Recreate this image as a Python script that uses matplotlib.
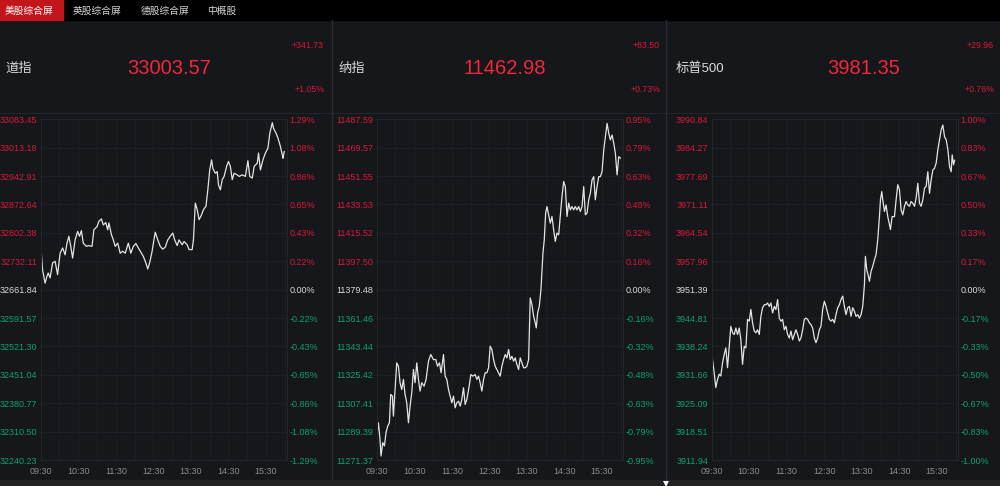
import numpy as np
import matplotlib.pyplot as plt
from matplotlib.patches import Rectangle

plt.rcParams['font.family'] = ['Liberation Sans', 'Noto Sans CJK SC', 'DejaVu Sans']

tabs = ['美股综合屏', '英股综合屏', '德股综合屏', '中概股']
names = ['道指', '纳指', '标普500']
last = ['33003.57', '11462.98', '3981.35']
change = ['+341.73', '+83.50', '+29.96']
change_pct = ['+1.05%', '+0.73%', '+0.76%']
prev_close = [32661.84, 11379.48, 3951.39]
time_labels = ['09:30', '10:30', '11:30', '12:30', '13:30', '14:30', '15:30']

left_ticks = [
    ['33083.45', '33013.18', '32942.91', '32872.64', '32802.38', '32732.11', '32661.84',
     '32591.57', '32521.30', '32451.04', '32380.77', '32310.50', '32240.23'],
    ['11487.59', '11469.57', '11451.55', '11433.53', '11415.52', '11397.50', '11379.48',
     '11361.46', '11343.44', '11325.42', '11307.41', '11289.39', '11271.37'],
    ['3990.84', '3984.27', '3977.69', '3971.11', '3964.54', '3957.96', '3951.39',
     '3944.81', '3938.24', '3931.66', '3925.09', '3918.51', '3911.94'],
]
right_ticks = [
    ['1.29%', '1.08%', '0.86%', '0.65%', '0.43%', '0.22%', '0.00%',
     '-0.22%', '-0.43%', '-0.65%', '-0.86%', '-1.08%', '-1.29%'],
    ['0.95%', '0.79%', '0.63%', '0.48%', '0.32%', '0.16%', '0.00%',
     '-0.16%', '-0.32%', '-0.48%', '-0.63%', '-0.79%', '-0.95%'],
    ['1.00%', '0.83%', '0.67%', '0.50%', '0.33%', '0.17%', '0.00%',
     '-0.17%', '-0.33%', '-0.50%', '-0.67%', '-0.83%', '-1.00%'],
]

# (minutes after 09:30, index level)
dow_pts = [
    (0, 32773), (3, 32711), (7, 32678), (10, 32695), (12, 32703), (15, 32691), (19, 32728),
    (23, 32732), (27, 32699), (31, 32752), (35, 32765), (39, 32748), (42, 32777), (45, 32794),
    (48, 32769), (51, 32740), (55, 32785), (59, 32806), (62, 32794), (65, 32808), (68, 32777),
    (73, 32769), (76, 32771), (82, 32769), (85, 32810), (90, 32818), (93, 32831), (97, 32837),
    (100, 32822), (104, 32828), (107, 32810), (109, 32827), (113, 32798), (116, 32785),
    (119, 32769), (123, 32777), (127, 32752), (131, 32757), (135, 32752), (140, 32777),
    (144, 32752), (148, 32769), (152, 32776), (156, 32765), (161, 32752), (164, 32744),
    (168, 32728), (171, 32713), (174, 32728), (178, 32757), (180, 32777), (183, 32804),
    (187, 32785), (191, 32769), (195, 32762), (199, 32767), (203, 32785), (207, 32794),
    (211, 32802), (214, 32785), (218, 32771), (221, 32785), (226, 32773), (229, 32781),
    (234, 32773), (237, 32761), (242, 32761), (244, 32785), (247, 32876), (250, 32860),
    (253, 32835), (257, 32847), (260, 32860), (264, 32868), (267, 32909), (270, 32958),
    (273, 32983), (275, 32962), (279, 32950), (282, 32954), (284, 32921), (287, 32909),
    (290, 32934), (293, 32942), (297, 32967), (300, 32979), (303, 32967), (306, 32934),
    (309, 32950), (314, 32946), (317, 32942), (322, 32946), (327, 32942), (331, 32981),
    (334, 32942), (338, 32938), (341, 32967), (346, 32975), (348, 33000), (351, 32958),
    (355, 32983), (359, 33000), (363, 33012), (366, 33049), (370, 33075), (372, 33061),
    (376, 33049), (379, 33037), (383, 33016), (386, 32995), (387, 32987), (389, 33003.57),
]
nasdaq_pts = [
    (0, 11284.5), (2.7, 11295.0), (5.3, 11284.5), (6.9, 11273.9), (9.6, 11282.4), (12.3, 11280.3),
    (14.9, 11288.7), (17.6, 11292.9), (20.3, 11295.0), (22.4, 11313.0), (25.1, 11311.9),
    (26.7, 11299.2), (29.3, 11316.1), (32.0, 11333.0), (34.7, 11330.9), (37.3, 11320.4),
    (40.0, 11316.1), (42.7, 11322.5), (45.3, 11313.0), (48.0, 11307.7), (50.7, 11295.0),
    (53.3, 11305.6), (56.0, 11314.0), (58.7, 11328.8), (61.3, 11320.4), (64.0, 11333.0),
    (66.7, 11322.5), (69.3, 11315.1), (72.0, 11320.4), (75.7, 11318.2), (78.9, 11322.5),
    (82.7, 11334.1), (86.4, 11338.3), (90.7, 11335.1), (94.4, 11335.1), (97.1, 11330.9),
    (100.3, 11333.0), (102.9, 11326.7), (106.7, 11338.3), (109.3, 11324.6), (112.0, 11322.5),
    (114.7, 11316.1), (117.3, 11311.9), (120.0, 11307.7), (122.7, 11311.9), (125.3, 11304.5),
    (128.0, 11307.7), (130.7, 11308.7), (133.3, 11305.6), (136.0, 11309.8), (138.7, 11317.2),
    (141.3, 11306.6), (144.0, 11309.8), (147.7, 11318.2), (150.4, 11325.6), (153.6, 11324.6),
    (157.3, 11325.6), (160.0, 11322.5), (162.7, 11324.6), (165.3, 11320.4), (168.0, 11315.1),
    (170.7, 11322.5), (173.3, 11326.7), (176.0, 11326.7), (178.7, 11329.9), (181.3, 11343.6),
    (184.0, 11341.5), (186.7, 11335.1), (189.3, 11330.9), (192.0, 11328.8), (194.7, 11326.7),
    (197.3, 11324.6), (200.0, 11330.9), (202.7, 11335.1), (205.3, 11338.3), (208.0, 11336.2),
    (210.7, 11341.5), (213.3, 11335.1), (216.0, 11337.2), (218.7, 11334.1), (221.3, 11336.2),
    (224.0, 11332.0), (226.7, 11328.8), (229.3, 11336.2), (232.0, 11333.0), (234.7, 11329.9),
    (237.3, 11329.9), (240.0, 11330.9), (242.7, 11335.1), (245.3, 11374.2), (248.0, 11370.0),
    (250.7, 11362.6), (253.3, 11358.4), (254.9, 11355.2), (257.1, 11364.7), (259.7, 11368.9),
    (262.4, 11379.5), (265.6, 11402.7), (267.7, 11411.1), (269.9, 11428.0), (272.0, 11432.2),
    (274.7, 11427.0), (277.3, 11421.7), (280.0, 11425.9), (282.7, 11417.5), (285.3, 11410.1),
    (288.0, 11415.4), (290.7, 11414.3), (293.3, 11425.9), (296.0, 11438.6), (298.7, 11448.1),
    (301.3, 11444.9), (304.0, 11425.9), (306.7, 11434.4), (309.3, 11430.1), (312.0, 11432.2),
    (314.7, 11430.1), (317.3, 11432.2), (320.0, 11430.1), (322.7, 11432.2), (325.3, 11429.1),
    (328.0, 11432.2), (330.7, 11444.9), (333.3, 11427.0), (336.0, 11428.0), (338.7, 11436.5),
    (341.3, 11440.7), (344.0, 11449.1), (346.7, 11451.2), (349.3, 11436.5), (352.0, 11444.9),
    (354.7, 11451.2), (357.3, 11451.2), (360.0, 11454.4), (362.7, 11468.1), (365.3, 11476.6),
    (368.0, 11485.0), (370.7, 11478.7), (373.3, 11474.5), (376.0, 11477.6), (378.7, 11472.4),
    (381.3, 11466.0), (384.0, 11452.3), (386.7, 11463.9), (389.3, 11462.98),
]
spx_pts = [
    (0, 3937.5), (1.6, 3935.2), (4.3, 3932.1), (6.9, 3928.7), (9.6, 3930.6), (12.3, 3931.8),
    (14.9, 3931.4), (17.6, 3934.4), (20.3, 3936.4), (22.9, 3937.9), (25.6, 3933.3), (28.3, 3938.3),
    (30.9, 3942.9), (33.6, 3941.4), (36.3, 3941.0), (38.9, 3942.5), (41.6, 3941.0), (44.3, 3942.5),
    (46.9, 3939.8), (49.6, 3934.1), (52.3, 3938.3), (54.9, 3937.9), (57.6, 3944.5), (60.3, 3944.1),
    (62.9, 3946.8), (65.6, 3943.7), (68.3, 3941.8), (70.9, 3941.4), (73.6, 3942.1), (76.3, 3941.0),
    (78.9, 3945.2), (81.6, 3947.2), (84.3, 3947.9), (86.9, 3947.9), (89.6, 3948.3), (92.3, 3947.5),
    (94.9, 3948.3), (97.6, 3946.0), (100.3, 3947.5), (102.9, 3946.8), (105.6, 3949.1),
    (108.3, 3944.8), (110.9, 3944.1), (113.6, 3944.5), (116.3, 3942.1), (118.9, 3942.9),
    (121.6, 3941.0), (124.3, 3940.2), (126.9, 3941.8), (129.6, 3939.8), (132.3, 3941.0),
    (134.9, 3942.1), (137.6, 3941.0), (140.3, 3939.5), (142.9, 3940.2), (145.6, 3942.1),
    (148.3, 3944.5), (150.9, 3944.8), (153.6, 3944.5), (156.3, 3943.7), (158.9, 3943.3),
    (161.6, 3942.5), (164.3, 3940.2), (166.9, 3939.1), (169.6, 3940.2), (172.3, 3942.1),
    (174.9, 3942.9), (177.6, 3946.8), (180.3, 3948.7), (182.9, 3947.5), (185.6, 3946.0),
    (188.3, 3944.5), (190.9, 3944.1), (193.6, 3944.5), (196.3, 3943.7), (198.9, 3945.6),
    (201.6, 3947.2), (204.3, 3947.9), (206.9, 3949.1), (209.6, 3949.9), (212.3, 3947.5),
    (214.9, 3945.6), (217.6, 3947.2), (220.3, 3947.5), (222.9, 3945.2), (225.6, 3947.2),
    (228.3, 3946.4), (230.9, 3945.2), (233.6, 3945.6), (236.3, 3944.8), (238.9, 3945.6),
    (241.6, 3947.5), (244.3, 3952.5), (245.9, 3959.1), (248.0, 3956.0), (250.1, 3954.9),
    (252.3, 3953.3), (254.9, 3955.6), (257.6, 3956.8), (260.3, 3958.3), (262.9, 3959.5),
    (265.6, 3963.0), (268.3, 3968.3), (269.9, 3972.2), (272.0, 3974.1), (273.6, 3972.2),
    (276.3, 3969.5), (278.9, 3971.0), (281.6, 3968.3), (284.3, 3966.4), (285.9, 3965.3),
    (288.5, 3968.3), (292.3, 3968.3), (294.9, 3972.2), (297.6, 3975.7), (300.3, 3974.5),
    (302.9, 3969.9), (305.6, 3968.7), (308.3, 3970.7), (310.9, 3971.8), (313.6, 3971.0),
    (316.3, 3970.7), (318.9, 3971.8), (321.6, 3971.4), (324.3, 3970.7), (326.9, 3972.6),
    (329.6, 3976.0), (332.3, 3971.4), (334.9, 3970.7), (337.6, 3972.2), (340.3, 3974.9),
    (342.9, 3975.3), (345.6, 3978.7), (348.3, 3973.7), (350.9, 3976.8), (353.6, 3979.1),
    (356.3, 3979.5), (358.9, 3980.7), (361.6, 3983.8), (364.3, 3986.1), (366.9, 3988.4),
    (369.6, 3989.5), (372.3, 3986.8), (374.9, 3986.1), (377.6, 3983.8), (380.3, 3979.9),
    (382.9, 3978.7), (384.5, 3982.6), (386.7, 3980.3), (388.3, 3981.35),
]
series = [dow_pts, nasdaq_pts, spx_pts]

BG = '#15171b'
RED = '#d8173a'
BIGRED = '#f3263c'
GREEN = '#10a06c'
GRID = '#1d2024'

fig = plt.figure(figsize=(10, 4.86), dpi=100, facecolor=BG)

# pixel-space layer for chrome
bg = fig.add_axes([0, 0, 1, 1])
bg.set_xlim(0, 1000)
bg.set_ylim(486, 0)
bg.axis('off')
bg.add_patch(Rectangle((0, 0), 1000, 20, color='#000000'))
bg.add_patch(Rectangle((0, 0.5), 63, 19.5, color='#c3151c'))
bg.add_patch(Rectangle((0, 480), 1000, 6, color='#202226'))
tab_x = [29, 97, 165, 222]
for i, t in enumerate(tabs):
    bg.text(tab_x[i], 10.5, t, color='white' if i == 0 else '#d6d6d6',
            fontsize=7, ha='center', va='center', family='Noto Sans CJK SC')
bg.plot([0, 1000], [113, 113], color='#222529', lw=0.8)
for x in [332, 666]:
    bg.plot([x, x], [20, 480], color='#2a2d31', lw=1.0)
bg.plot([666], [483.5], marker='v', color='white', ms=4, mew=0)

name_x = [5, 338, 676]
big_x = [169, 505, 864]
chg_x = [324, 660, 994]
ax_left = [40.7, 376.7, 711.5]

for i in range(3):
    bg.text(name_x[i], 69, names[i], color='#dcdcdc', fontsize=9.5, ha='left', va='center')
    bg.text(big_x[i], 69, last[i], color=BIGRED, fontsize=14.5, ha='center', va='center')
    bg.text(chg_x[i], 45, change[i], color=RED, fontsize=6.3, ha='right', va='center')
    bg.text(chg_x[i], 90, change_pct[i], color=RED, fontsize=6.3, ha='right', va='center')

    vals = [float(s) for s in left_ticks[i]]
    ax = fig.add_axes([ax_left[i] / 1000, 26 / 486, 246 / 1000, 340.7 / 486])
    ax.set_facecolor(BG)
    t, v = np.array(series[i]).T
    ax.plot(t, v, color='#e4e4e4', lw=0.9)
    ax.set_xlim(0, 393)
    ax.set_ylim(min(vals), max(vals))
    ax.set_xticks(np.arange(0, 361, 60))
    ax.set_xticklabels(time_labels)
    ax.set_xticks(np.arange(30, 391, 60), minor=True)
    ax.set_yticks(vals)
    ax.set_yticklabels(left_ticks[i])
    ax.tick_params(axis='x', which='both', length=0, pad=5, labelsize=6.5, colors='#8c8c8c')
    ax.tick_params(axis='y', length=0, pad=2.2, labelsize=6.5)
    ax.grid(True, which='both', color=GRID, lw=0.6)
    for s in ax.spines.values():
        s.set_color('#222529')
        s.set_linewidth(0.8)

    ax2 = ax.twinx()
    ax2.set_ylim(min(vals), max(vals))
    ax2.set_yticks(vals)
    ax2.set_yticklabels(right_ticks[i])
    ax2.tick_params(axis='y', length=0, pad=1.9, labelsize=6.5)
    for s in ax2.spines.values():
        s.set_visible(False)

    for lab_l, lab_r, val in zip(ax.get_yticklabels(), ax2.get_yticklabels(), vals):
        c = RED if val > prev_close[i] + 1e-6 else (GREEN if val < prev_close[i] - 1e-6 else '#d8d8d8')
        lab_l.set_color(c)
        lab_r.set_color(c)

fig.savefig('out.png', dpi=100, facecolor=BG)
